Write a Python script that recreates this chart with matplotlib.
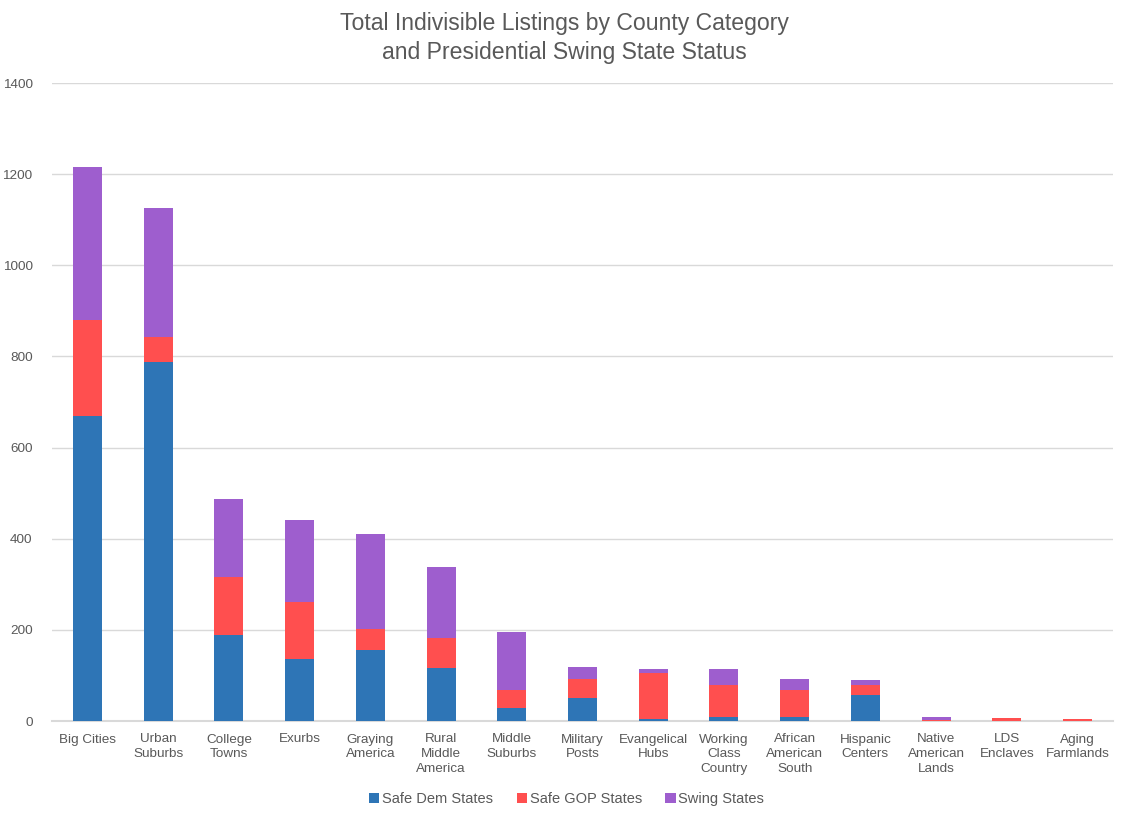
import matplotlib
matplotlib.use("Agg")
import matplotlib.pyplot as plt
import numpy as np

categories = ["Big Cities", "Urban\nSuburbs", "College\nTowns", "Exurbs", "Graying\nAmerica",
              "Rural\nMiddle\nAmerica", "Middle\nSuburbs", "Military\nPosts", "Evangelical\nHubs",
              "Working\nClass\nCountry", "African\nAmerican\nSouth", "Hispanic\nCenters",
              "Native\nAmerican\nLands", "LDS\nEnclaves", "Aging\nFarmlands"]
safe_dem = [670, 788, 189, 136, 156, 116, 28, 51, 4, 9, 9, 56, 0, 0, 0]
safe_gop = [210, 55, 127, 125, 46, 66, 39, 42, 101, 69, 58, 22, 3, 7, 4]
swing = [335, 283, 171, 180, 208, 156, 128, 26, 10, 36, 25, 13, 5, 0, 0]
series_names = ["Safe Dem States", "Safe GOP States", "Swing States"]
yticks = [0, 200, 400, 600, 800, 1000, 1200, 1400]

plt.rcParams['font.family'] = ['Liberation Sans', 'DejaVu Sans']
fig = plt.figure(figsize=(11.29, 8.16), dpi=100)
ax = fig.add_axes([52/1129, 1-721/816, (1113-52)/1129, (721-83)/816])

colors = ["#2E75B6", "#FF4F4F", "#9E5ECE"]
x = np.arange(len(categories))
w = 0.41
dem = np.array(safe_dem); gop = np.array(safe_gop); sw = np.array(swing)
ax.bar(x, dem, w, color=colors[0], label=series_names[0], zorder=3)
ax.bar(x, gop, w, bottom=dem, color=colors[1], label=series_names[1], zorder=3)
ax.bar(x, sw, w, bottom=dem + gop, color=colors[2], label=series_names[2], zorder=3)

ax.set_xlim(-0.5, len(categories) - 0.5)
ax.set_ylim(0, 1400)
ax.set_yticks(yticks)
ax.set_yticklabels([str(v) for v in yticks])
ax.set_xticks(x)
ax.set_xticklabels(categories, linespacing=1.33)
ax.grid(axis='y', color='#D9D9D9', linewidth=1, zorder=0)
for s in ['top', 'right', 'left']:
    ax.spines[s].set_visible(False)
ax.spines['bottom'].set_color('#D9D9D9')
ax.spines['bottom'].set_linewidth(1.5)
ax.tick_params(axis='both', length=0, labelsize=9.7, colors='#595959')
ax.tick_params(axis='x', pad=9)
ax.tick_params(axis='y', pad=14)

fig.text(0.5, 1-38/816, "Total Indivisible Listings by County Category\nand Presidential Swing State Status",
         ha='center', va='center', fontsize=16.6, color='#595959', linespacing=1.3)

leg = fig.legend(loc='center', bbox_to_anchor=(0.502, 1-799/816), ncol=3, frameon=False,
                 fontsize=10.5, handlelength=0.7, handleheight=0.7, handletextpad=0.2,
                 columnspacing=1.6, labelcolor='#595959')

fig.savefig("out.png", dpi=100)
